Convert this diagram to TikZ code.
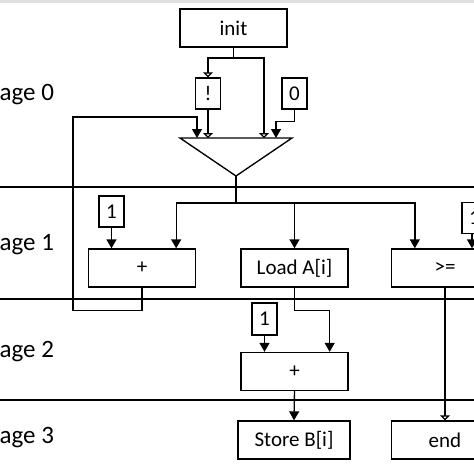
\documentclass[tikz,border=0pt]{standalone}
\usepackage{fontspec}
\setmainfont{Carlito}
\usetikzlibrary{arrows.meta,calc}
\begin{document}
\begin{tikzpicture}[x=1pt,y=-1pt,line width=1.35pt,
  blk/.style={draw,minimum width=107pt,minimum height=38pt,inner sep=0pt,font=\fontsize{21}{25}\selectfont},
  cst/.style={draw,minimum width=25pt,minimum height=31pt,inner sep=0pt,font=\fontsize{21}{25}\selectfont},
  stg/.style={anchor=west,inner sep=0pt,font=\fontsize{25}{29}\selectfont},
  fa/.style={-{Triangle[width=10pt,length=9pt]}},
  oa/.style={-{Triangle[open,width=10pt,length=5pt]}}]

\useasboundingbox (0,0) rectangle (474,474);
\fill[black!12] (0,0) rectangle (474,3);

\draw (0,187) -- (474,187);
\draw (0,299) -- (474,299);
\draw (0,400) -- (474,400);

\node[stg] (s0) at (-1,95) {age 0};
\node[stg] (s1) at (-1,245) {age 1};
\node[stg] (s2) at (-1,352) {age 2};
\node[stg] (s3) at (-1,438) {age 3};

\node[blk] (init) at (233.5,28) {init};
\node[cst] (neg) at (208,93.5) {!};
\node[cst] (zero) at (294.5,93.5) {0};
\node[cst] (one1) at (111.5,211.5) {1};
\node[cst] (one2) at (474.5,218) {1};
\node[blk] (add1) at (142,268) {+};
\node[blk] (load) at (294.5,268) {Load A[i]};
\node[blk] (geq) at (445,268) {>=};
\node[cst,minimum height=32pt] (one3) at (264.5,319) {1};
\node[blk] (add2) at (294.5,371.5) {+};
\node[blk,minimum width=112pt] (store) at (294,440) {Store B[i]};
\node[blk] (end) at (445,440) {end};

\coordinate (mtl) at (180,138);
\coordinate (mtr) at (292,138);
\coordinate (mout) at (236,176);
\draw (mtl) -- (mtr) -- (mout) -- cycle;

\coordinate (itap) at (233.5,58);
\coordinate (min1) at (197,138);
\coordinate (min3) at (264,138);
\coordinate (min4) at (276,138);
\coordinate (fbl) at (73,117);
\coordinate (split) at (236,203);

\draw (init.south) -- (itap);
\draw[oa] (itap) -| (neg.north);
\draw[oa] (itap) -| (min3);
\draw[oa] (neg.south) -- (neg.south |- mtl);
\draw[fa] (zero.south) -- ++(0,12) -| (min4);
\draw[fa] (add1.south) -- ++(0,23) -| (fbl) -| (min1);

\draw (mout) -- (split);
\draw[fa] (split) -| ($(add1.north east)+(-20,0)$);
\draw[fa] (split) -| (load.north);
\draw[fa] (split) -| ($(geq.north west)+(24,0)$);
\draw[fa] (one1.south) -- (one1.south |- add1.north);
\draw[fa] ($(one2.south)+(-2.5,0)$) -- ($(one2.south |- geq.north)+(-2.5,0)$);

\draw[oa] (geq.south) -- (end.north);
\draw[fa] (load.south) -- ++(0,23) -| ($(add2.north east)+(-19,0)$);
\draw[fa] (one3.south) -- (one3.south |- add2.north);
\draw[fa] (add2.south) -- (store.north);
\end{tikzpicture}
\end{document}
